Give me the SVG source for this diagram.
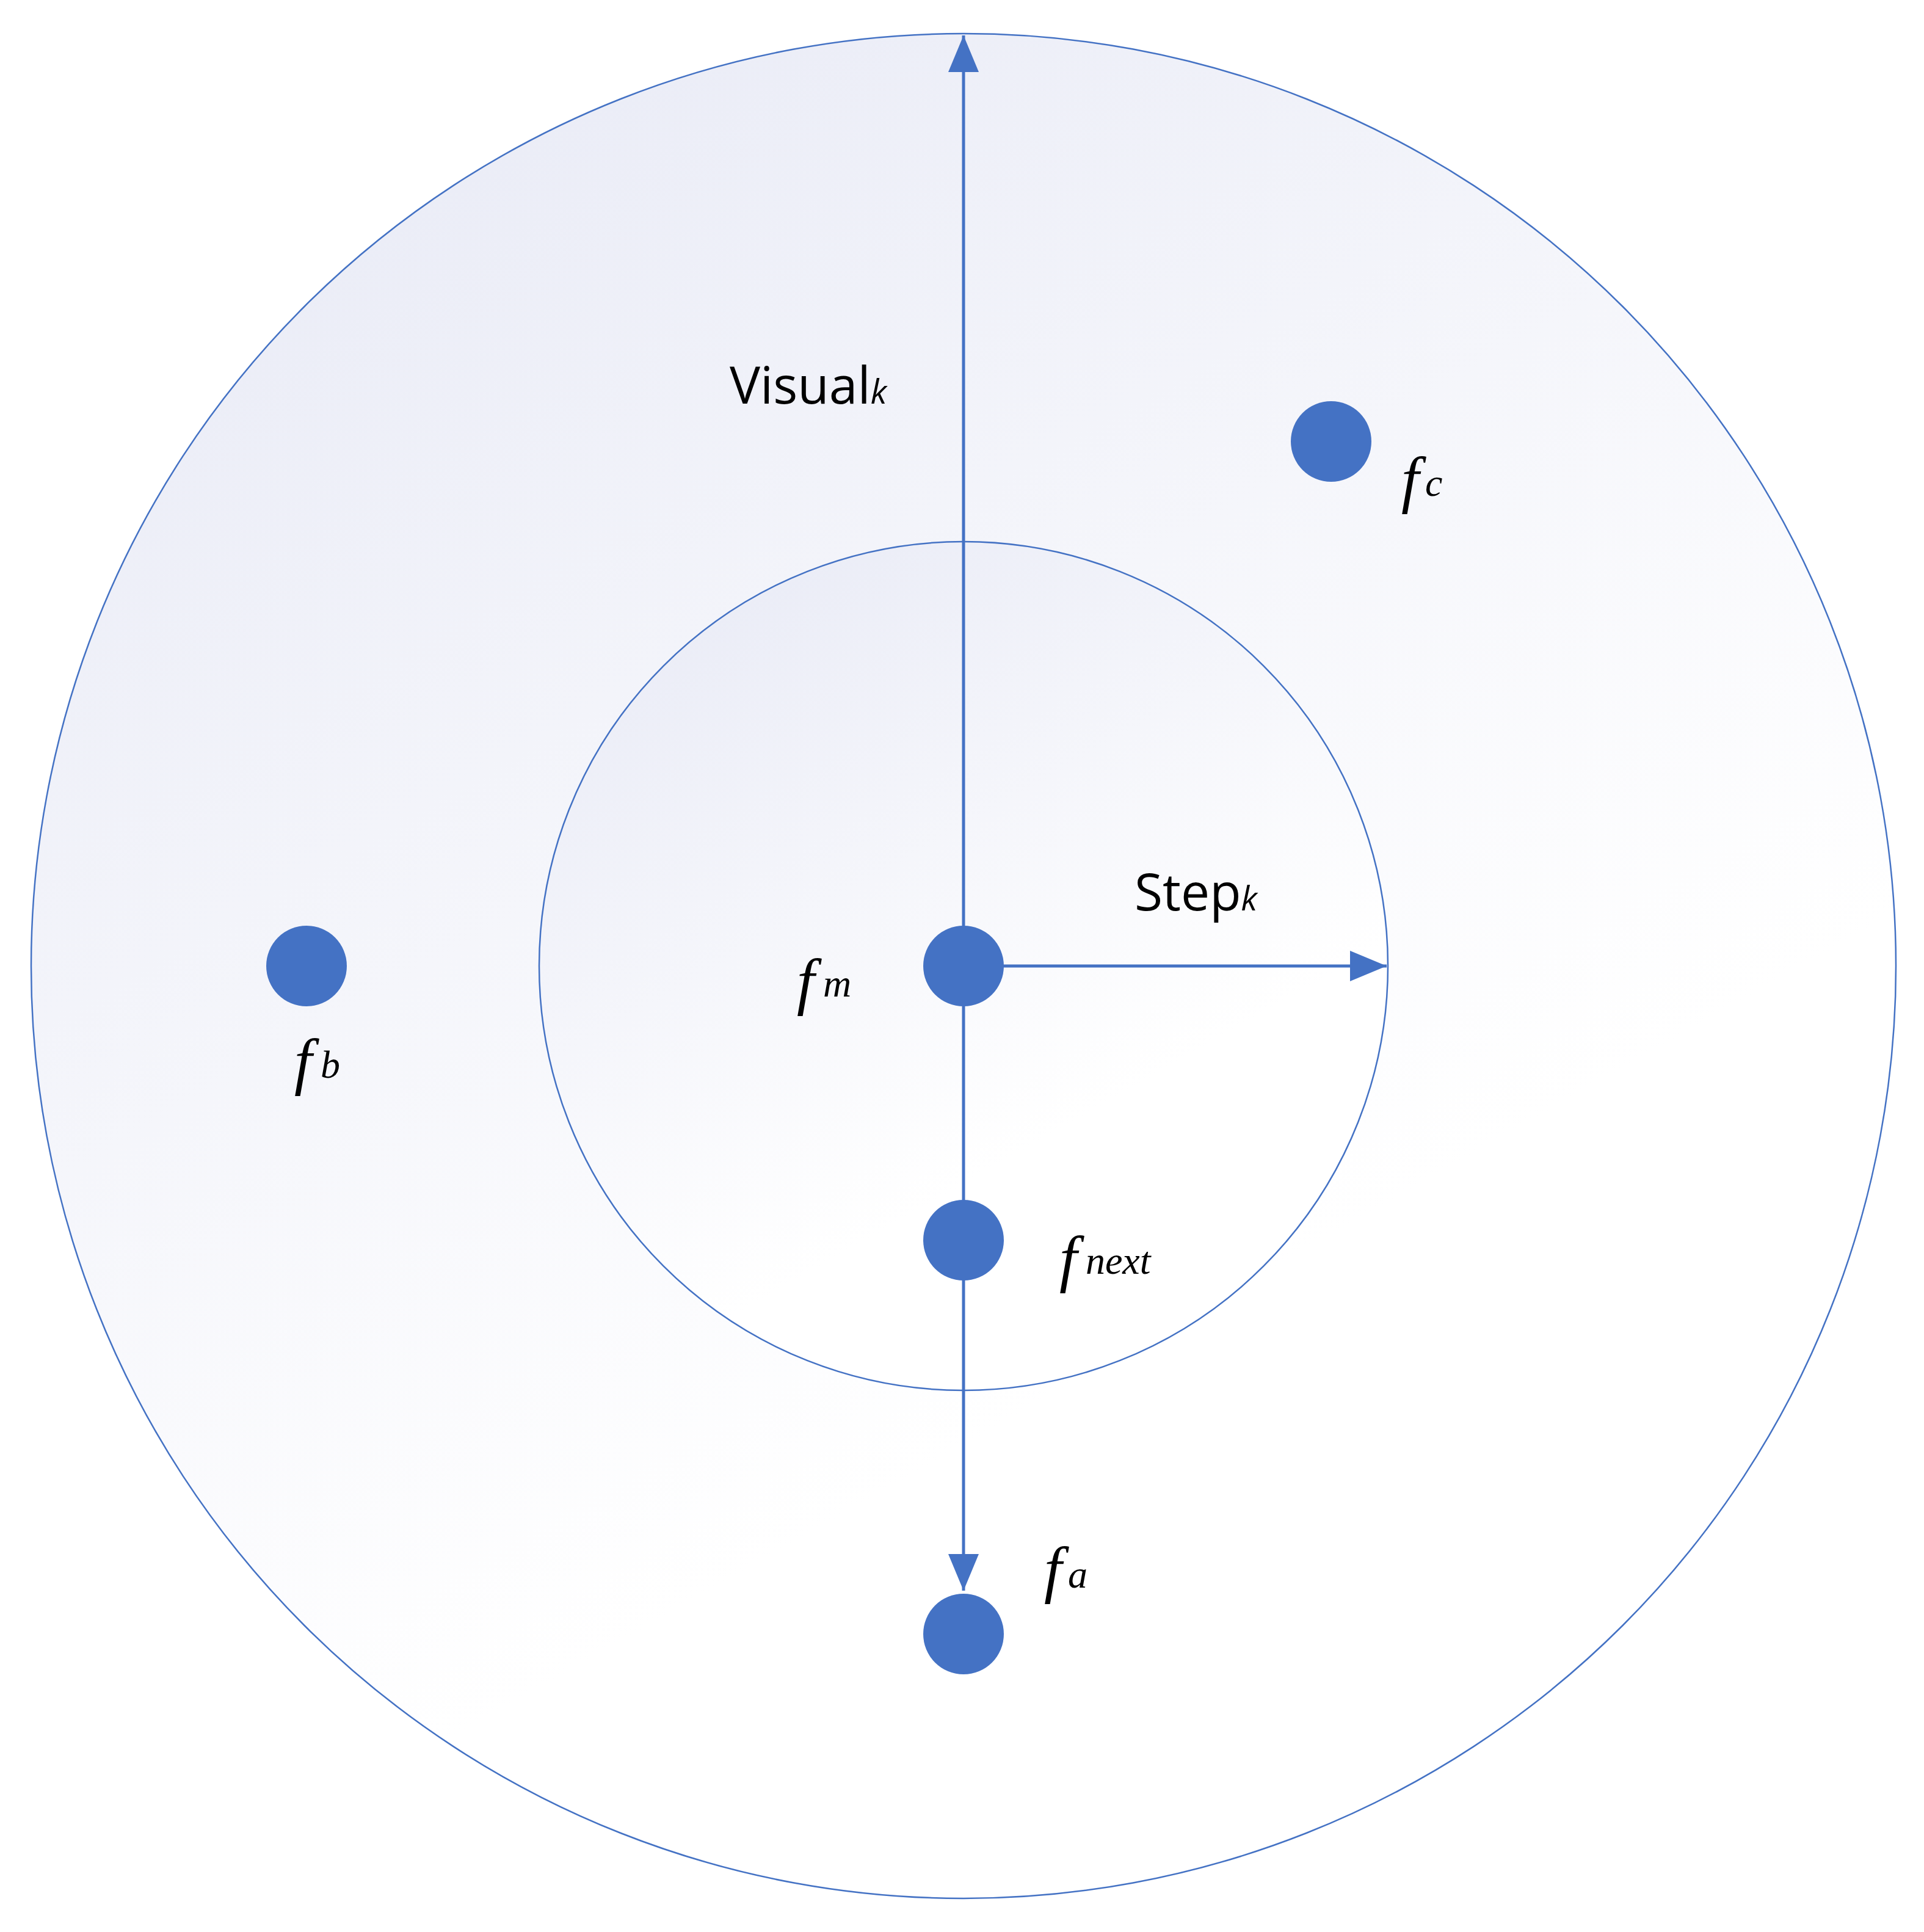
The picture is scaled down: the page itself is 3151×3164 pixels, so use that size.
<svg xmlns="http://www.w3.org/2000/svg" width="3151" height="3164" viewBox="0 0 3151 3164">
<style>
.ring{stroke:#4472C4;stroke-width:2.5}
.dot{fill:#4472C4}
.ln{stroke:#4472C4;stroke-width:5;fill:none}
.lab{font-family:"Open Sans","DejaVu Sans",sans-serif;font-size:84px;fill:#000}
.f{font-family:"Liberation Serif",serif;font-style:italic;font-size:104px;fill:#000}
.sub{font-size:64px}
.ks{font-style:italic;font-size:54px}
</style>
<defs>
<linearGradient id="g" x1="0.2" y1="0" x2="0.6" y2="0.7">
<stop offset="0" stop-color="#e9ebf6"/><stop offset="1" stop-color="#ffffff"/>
</linearGradient>
<marker id="a2" viewBox="0 0 10 10" refX="10" refY="5" markerWidth="60" markerHeight="50" markerUnits="userSpaceOnUse" orient="auto" preserveAspectRatio="none">
<path d="M0,0L10,5L0,10z" fill="#4472C4"/>
</marker>
</defs>
<rect width="3151" height="3164" fill="#fff"/>
<g id="outer"><circle cx="1578" cy="1582" r="1527" fill="url(#g)" class="ring"/></g>
<g id="inner"><circle cx="1578" cy="1582" r="695" fill="url(#g)" class="ring"/></g>
<g id="connectors">
<line class="ln" x1="1578" y1="1582" x2="1578" y2="58" marker-end="url(#a2)"/>
<line class="ln" x1="1578" y1="1582" x2="1578" y2="2605" marker-end="url(#a2)"/>
<line class="ln" x1="1578" y1="1582" x2="2271" y2="1582" marker-end="url(#a2)"/>
</g>
<g id="fm"><circle class="dot" cx="1578" cy="1582" r="66"/><text class="f" x="1305" y="1642">f<tspan class="sub" dx="14" dy="-10">m</tspan></text></g>
<g id="fnext"><circle class="dot" cx="1578" cy="2031" r="66"/><text class="f" x="1735" y="2096">f<tspan class="sub" dx="14" dy="-10" font-size="68">next</tspan></text></g>
<g id="fa"><circle class="dot" cx="1578" cy="2676" r="66"/><text class="f" x="1710" y="2605">f<tspan class="sub" dx="10" dy="-5" font-size="84">a</tspan></text></g>
<g id="fb"><circle class="dot" cx="502" cy="1582" r="66"/><text class="f" x="482" y="1773">f<tspan class="sub" dx="14" dy="-8" font-size="84">b</tspan></text></g>
<g id="fc"><circle class="dot" cx="2180" cy="723" r="66"/><text class="f" x="2295" y="820">f<tspan class="sub" dx="10" dy="-8" font-size="84">c</tspan></text></g>
<g id="visual"><text class="lab" x="1195" y="661">Visual<tspan class="ks">k</tspan></text></g>
<g id="step"><text class="lab" x="1858" y="1491">Step<tspan class="ks">k</tspan></text></g>
</svg>
